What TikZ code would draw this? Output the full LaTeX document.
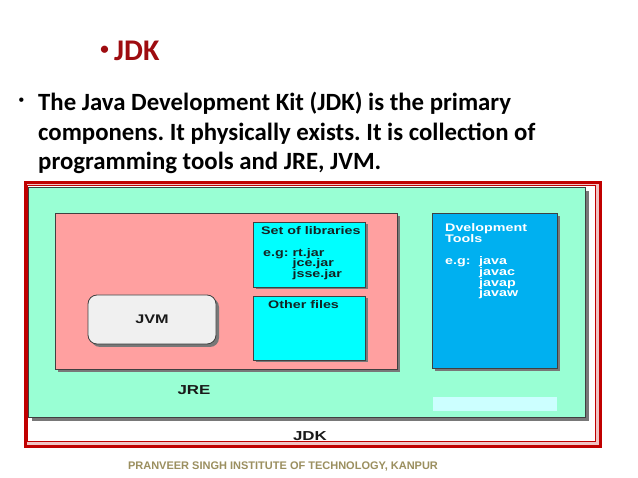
\documentclass[tikz,border=0pt]{standalone}
\usepackage{fontspec}
\setmainfont{Carlito}
\newfontfamily\diafont[FakeStretch=1.3]{Liberation Sans}
\newfontfamily\footfont{Liberation Sans}
\usetikzlibrary{shadows}
\frenchspacing
\definecolor{titlered}{RGB}{158,12,16}
\definecolor{framered}{RGB}{192,0,0}
\definecolor{framepale}{RGB}{240,196,196}
\definecolor{jdkgreen}{RGB}{153,255,212}
\definecolor{jrepink}{RGB}{255,160,160}
\definecolor{libcyan}{RGB}{0,255,255}
\definecolor{toolblue}{RGB}{0,176,240}
\definecolor{jvmgray}{RGB}{240,240,240}
\definecolor{stripcyan}{RGB}{204,255,255}
\definecolor{footcol}{RGB}{155,143,95}
\definecolor{shadowgray}{RGB}{120,120,120}
\definecolor{boxtext}{RGB}{20,35,35}
\begin{document}
\begin{tikzpicture}[x=1pt,y=-1pt,
  panel/.style={draw=black!75, line width=0.8pt, anchor=north west, inner sep=0pt, outer sep=0pt},
  shad/.style={drop shadow={shadow xshift=#1, shadow yshift=-#1, fill=shadowgray, opacity=1}},
  lbl/.style={anchor=base west, inner sep=0pt, font=\diafont\bfseries\fontsize{11}{11}\selectfont, text=boxtext},
  wlbl/.style={lbl, text=white},
  biglbl/.style={inner sep=0pt, font=\diafont\bfseries\fontsize{13}{13}\selectfont, text=black!90},
  bodyline/.style={anchor=base west, inner sep=0pt, font=\bfseries\fontsize{24.8}{24.8}\selectfont, text=black},
]
\useasboundingbox (0,0) rectangle (638,478);
\fill[white] (0,0) rectangle (638,478);

% title and text
\node[inner sep=0pt, font=\bfseries\fontsize{17}{17}\selectfont, text=titlered] (tbullet) at (104.5,50) {•};
\node[anchor=base west, inner sep=0pt, font=\bfseries\fontsize{30}{30}\selectfont, text=titlered] (title) at (114,61) {JDK};
\node[inner sep=0pt, font=\footfont\fontsize{16}{16}\selectfont] (bbullet) at (21.5,102) {•};
\node[bodyline] (line1) at (38,111) {The Java Development Kit (JDK) is the primary};
\node[bodyline] (line2) at (38,140.5) {componens. It physically exists. It is collection of};
\node[bodyline] (line3) at (38,170) {programming tools and JRE, JVM.};

% frame
\node[draw=framered, line width=3pt, fill=framepale, anchor=north west, inner sep=0pt, minimum width=575pt, minimum height=264pt] (frameouter) at (23.5,181.5) {};
\node[draw=framered, line width=1pt, fill=white, anchor=north west, inner sep=0pt, minimum width=568pt, minimum height=256pt] (frameinner) at (26.5,185) {};

% JDK green
\node[panel, fill=jdkgreen, minimum width=557pt, minimum height=230pt, shad=4pt] (jdkbox) at (28,187) {};
\node[fill=stripcyan, anchor=north west, inner sep=0pt, minimum width=124pt, minimum height=14pt] (strip) at (433,397) {};

% JRE pink
\node[panel, fill=jrepink, minimum width=342pt, minimum height=156pt, shad=3pt] (jrebox) at (55,213) {};
\node[panel, fill=libcyan, minimum width=112pt, minimum height=65pt, shad=2.5pt] (libbox) at (253,222) {};
\node[panel, fill=libcyan, minimum width=112pt, minimum height=64pt, shad=2.5pt] (otherbox) at (253,296) {};
\node[panel, fill=jvmgray, rounded corners=9pt, minimum width=128pt, minimum height=49pt, shad=3pt, font=\diafont\bfseries\fontsize{12.5}{12.5}\selectfont, text=black!90] (jvm) at (88,295) {JVM};

% dev tools
\node[panel, fill=toolblue, minimum width=125pt, minimum height=155pt, shad=3pt] (toolbox) at (432,213) {};

% labels
\node[lbl] (setlib) at (261,235) {Set of libraries};
\node[lbl] (eg1) at (263,257) {e.g: rt.jar};
\node[lbl] (eg2) at (263,267) {\phantom{e.g: }jce.jar};
\node[lbl] (eg3) at (263,277.5) {\phantom{e.g: }jsse.jar};
\node[lbl] (other) at (268,309) {Other files};

\node[wlbl] (dv) at (445,232) {Dvelopment};
\node[wlbl] (tools) at (445,243) {Tools};
\node[wlbl] (eg) at (445,265) {e.g:};
\node[wlbl] (java) at (479,265) {java};
\node[wlbl] (javac) at (479,276) {javac};
\node[wlbl] (javap) at (479,286.5) {javap};
\node[wlbl] (javaw) at (479,297) {javaw};

\node[biglbl] (jre) at (194,390) {JRE};
\node[biglbl, anchor=base] (jdk) at (310,441) {JDK};

% footer
\node[anchor=base, inner sep=0pt, font=\footfont\bfseries\fontsize{11}{11}\selectfont, text=footcol] (footer) at (283,470) {PRANVEER SINGH INSTITUTE OF TECHNOLOGY, KANPUR};
\end{tikzpicture}
\end{document}
